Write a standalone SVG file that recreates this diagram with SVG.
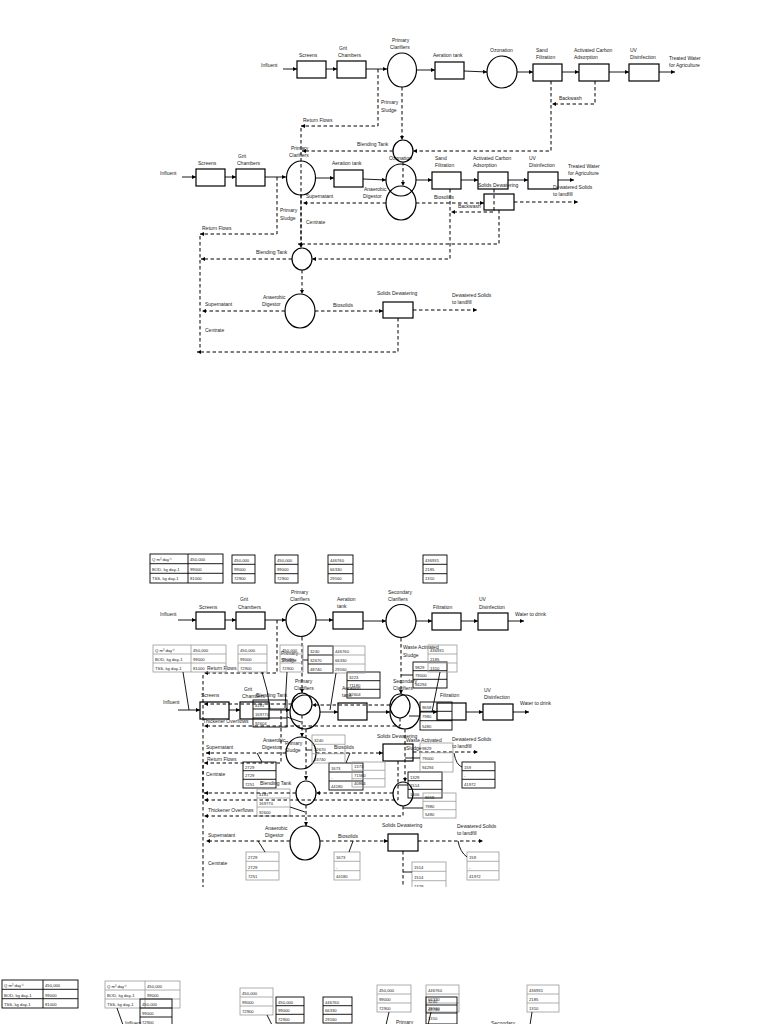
<svg xmlns="http://www.w3.org/2000/svg" width="768" height="1024" viewBox="0 0 768 1024">
<style>
.box{fill:none;stroke:#000;stroke-width:1.2}
.ln{fill:none;stroke:#000;stroke-width:0.9}
.sa{fill:none;stroke:#000;stroke-width:0.9;marker-end:url(#ah)}
.da{fill:none;stroke:#000;stroke-width:1;stroke-dasharray:3.5 2.5;marker-end:url(#ah)}
.dl{fill:none;stroke:#000;stroke-width:1;stroke-dasharray:3.5 2.5}
.tk{fill:none;stroke:#000;stroke-width:0.9}
.tl{fill:none;stroke:#9a9a9a;stroke-width:0.8}
.t{font-family:"Liberation Sans",Arial,sans-serif;font-size:5px;fill:#222}
.n{font-family:"Liberation Sans",Arial,sans-serif;font-size:4.2px;fill:#222}
</style>
<defs>
<marker id="ah" viewBox="0 0 6 6" refX="6" refY="3" markerWidth="4" markerHeight="4" markerUnits="userSpaceOnUse" orient="auto"><path d="M0,0L6,3L0,6z" fill="#000"/></marker>
<clipPath id="clipC2"><rect x="0" y="0" width="768" height="887"/></clipPath>
</defs>
<rect x="0" y="0" width="768" height="1024" fill="#fff"/>

<!-- ===== Flow B ===== -->
<g id="flowB">
<g id="b-influent"><text class="t" x="160" y="175">Influent</text></g>
<g id="b-screens"><rect class="box" x="196" y="169" width="29" height="17"/><text class="t" x="198" y="165">Screens</text></g>
<g id="b-grit"><rect class="box" x="236" y="169" width="29" height="17"/><text class="t" x="238" y="158">Grit</text><text class="t" x="237" y="165">Chambers</text></g>
<g id="b-primary"><ellipse class="box" cx="301" cy="178" rx="14.5" ry="17"/><text class="t" x="291" y="150">Primary</text><text class="t" x="289" y="157">Clarifiers</text></g>
<g id="b-aeration"><rect class="box" x="334" y="170" width="29" height="17"/><text class="t" x="332" y="165">Aeration tank</text></g>
<g id="b-ozonation"><ellipse class="box" cx="401" cy="180" rx="15" ry="16"/><text class="t" x="389" y="160">Ozonation</text></g>
<g id="b-sand"><rect class="box" x="432" y="172" width="29" height="17"/><text class="t" x="435" y="160">Sand</text><text class="t" x="435" y="167">Filtration</text></g>
<g id="b-carbon"><rect class="box" x="478" y="172" width="30" height="17"/><text class="t" x="473" y="160">Activated Carbon</text><text class="t" x="473" y="167">Adsorption</text></g>
<g id="b-uv"><rect class="box" x="528" y="172" width="30" height="17"/><text class="t" x="529" y="160">UV</text><text class="t" x="529" y="167">Disinfection</text></g>
<g id="b-treated"><text class="t" x="568" y="168">Treated Water</text><text class="t" x="568" y="175">for Agriculture</text></g>
<g id="b-blending"><ellipse class="box" cx="302" cy="259" rx="10" ry="11"/><text class="t" x="256" y="254">Blending Tank</text></g>
<g id="b-digestor"><ellipse class="box" cx="300" cy="311" rx="15" ry="17"/><text class="t" x="263" y="299">Anaerobic</text><text class="t" x="262" y="306">Digestor</text></g>
<g id="b-dewatering"><rect class="box" x="383" y="302" width="30" height="16"/><text class="t" x="377" y="295">Solids Dewatering</text></g>
<g id="b-labels">
<text class="t" x="280" y="212">Primary</text><text class="t" x="280" y="220">Sludge</text>
<text class="t" x="202" y="230">Return Flows</text>
<text class="t" x="205" y="306">Supernatant</text>
<text class="t" x="333" y="307">Biosolids</text>
<text class="t" x="452" y="297">Dewatered Solids</text><text class="t" x="452" y="304">to landfill</text>
<text class="t" x="205" y="332">Centrate</text>
<text class="t" x="458" y="208">Backwash</text>
</g>
<g id="b-connectors">
<path class="sa" d="M182,177H196"/><path class="sa" d="M225,177H236"/><path class="sa" d="M265,177H286"/>
<path class="sa" d="M315.5,178H334"/><path class="sa" d="M363,179L386,180"/><path class="sa" d="M416,180H432"/>
<path class="sa" d="M461,180H478"/><path class="sa" d="M508,180H528"/><path class="sa" d="M558,180H574"/>
<path class="da" d="M277,177V234H200"/>
<path class="da" d="M301,195V248"/>
<path class="da" d="M450,189V259H312"/>
<path class="da" d="M494,189V212H451"/>
<path class="da" d="M292,259H201"/>
<path class="da" d="M302,270V294"/>
<path class="da" d="M285,311H202"/>
<path class="da" d="M315,311H383"/>
<path class="da" d="M413,310H477"/>
<path class="da" d="M398,318V352H197"/>
<path class="dl" d="M200,236V350"/>
</g>
</g>

<!-- ===== Flow A ===== -->
<g id="flowA" transform="translate(101,-108)">
<g id="a-influent"><text class="t" x="160" y="175">Influent</text></g>
<g id="a-screens"><rect class="box" x="196" y="169" width="29" height="17"/><text class="t" x="198" y="165">Screens</text></g>
<g id="a-grit"><rect class="box" x="236" y="169" width="29" height="17"/><text class="t" x="238" y="158">Grit</text><text class="t" x="237" y="165">Chambers</text></g>
<g id="a-primary"><ellipse class="box" cx="301" cy="178" rx="14.5" ry="17"/><text class="t" x="291" y="150">Primary</text><text class="t" x="289" y="157">Clarifiers</text></g>
<g id="a-aeration"><rect class="box" x="334" y="170" width="29" height="17"/><text class="t" x="332" y="165">Aeration tank</text></g>
<g id="a-ozonation"><ellipse class="box" cx="401" cy="180" rx="15" ry="16"/><text class="t" x="389" y="160">Ozonation</text></g>
<g id="a-sand"><rect class="box" x="432" y="172" width="29" height="17"/><text class="t" x="435" y="160">Sand</text><text class="t" x="435" y="167">Filtration</text></g>
<g id="a-carbon"><rect class="box" x="478" y="172" width="30" height="17"/><text class="t" x="473" y="160">Activated Carbon</text><text class="t" x="473" y="167">Adsorption</text></g>
<g id="a-uv"><rect class="box" x="528" y="172" width="30" height="17"/><text class="t" x="529" y="160">UV</text><text class="t" x="529" y="167">Disinfection</text></g>
<g id="a-treated"><text class="t" x="568" y="168">Treated Water</text><text class="t" x="568" y="175">for Agriculture</text></g>
<g id="a-blending"><ellipse class="box" cx="302" cy="259" rx="10" ry="11"/><text class="t" x="256" y="254">Blending Tank</text></g>
<g id="a-digestor"><ellipse class="box" cx="300" cy="311" rx="15" ry="17"/><text class="t" x="263" y="299">Anaerobic</text><text class="t" x="262" y="306">Digestor</text></g>
<g id="a-dewatering"><rect class="box" x="383" y="302" width="30" height="16"/><text class="t" x="377" y="295">Solids Dewatering</text></g>
<g id="a-labels">
<text class="t" x="280" y="212">Primary</text><text class="t" x="280" y="220">Sludge</text>
<text class="t" x="202" y="230">Return Flows</text>
<text class="t" x="205" y="306">Supernatant</text>
<text class="t" x="333" y="307">Biosolids</text>
<text class="t" x="452" y="297">Dewatered Solids</text><text class="t" x="452" y="304">to landfill</text>
<text class="t" x="205" y="332">Centrate</text>
<text class="t" x="458" y="208">Backwash</text>
</g>
<g id="a-connectors">
<path class="sa" d="M182,177H196"/><path class="sa" d="M225,177H236"/><path class="sa" d="M265,177H286"/>
<path class="sa" d="M315.5,178H334"/><path class="sa" d="M363,179L386,180"/><path class="sa" d="M416,180H432"/>
<path class="sa" d="M461,180H478"/><path class="sa" d="M508,180H528"/><path class="sa" d="M558,180H574"/>
<path class="da" d="M277,177V234H200"/>
<path class="da" d="M301,195V248"/>
<path class="da" d="M450,189V259H312"/>
<path class="da" d="M494,189V212H451"/>
<path class="da" d="M292,259H201"/>
<path class="da" d="M302,270V294"/>
<path class="da" d="M285,311H202"/>
<path class="da" d="M315,311H383"/>
<path class="da" d="M413,310H477"/>
<path class="da" d="M398,318V352H197"/>
<path class="dl" d="M200,236V350"/>
</g>
</g>

<!-- ===== Flow C1 ===== -->
<g id="flowC1">
<g id="c1-tables">
<g id="c1-t1"><rect class="tk" x="150" y="554" width="73" height="29"/><path class="tk" d="M188,554V583M150,563.7H223M150,573.3H223"/>
<text class="n" x="152" y="561">Q m³ day⁻¹</text><text class="n" x="190" y="561">450,000</text>
<text class="n" x="152" y="570.5">BOD, kg day-1</text><text class="n" x="190" y="570.5">99000</text>
<text class="n" x="152" y="580">TSS, kg day-1</text><text class="n" x="190" y="580">81000</text></g>
<g id="c1-t2"><rect class="tk" x="232" y="555" width="23" height="28"/><path class="tk" d="M232,564.3H255M232,573.7H255"/><text class="n" x="234" y="562">450,000</text><text class="n" x="234" y="571">99000</text><text class="n" x="234" y="580">72900</text></g>
<g id="c1-t3"><rect class="tk" x="275" y="555" width="23" height="28"/><path class="tk" d="M275,564.3H298M275,573.7H298"/><text class="n" x="277" y="562">450,000</text><text class="n" x="277" y="571">99000</text><text class="n" x="277" y="580">72900</text></g>
<g id="c1-t4"><rect class="tk" x="328" y="555" width="25" height="28"/><path class="tk" d="M328,564.3H353M328,573.7H353"/><text class="n" x="330" y="562">446760</text><text class="n" x="330" y="571">66330</text><text class="n" x="330" y="580">29160</text></g>
<g id="c1-t5"><rect class="tk" x="423" y="555" width="24" height="28"/><path class="tk" d="M423,564.3H447M423,573.7H447"/><text class="n" x="425" y="562">436931</text><text class="n" x="425" y="571">2185</text><text class="n" x="425" y="580">1310</text></g>
<g id="c1-tps"><rect class="tk" x="308" y="646" width="25" height="27"/><path class="tk" d="M308,655H333M308,664H333"/><text class="n" x="310" y="652.5">3240</text><text class="n" x="310" y="661.5">32670</text><text class="n" x="310" y="670.5">48740</text></g>
<g id="c1-tx"><rect class="tk" x="347" y="672" width="33" height="26"/><path class="tk" d="M347,680.7H380M347,689.3H380"/><text class="n" x="349" y="678.5">3223</text><text class="n" x="349" y="687">71180</text><text class="n" x="349" y="695.5">32604</text></g>
<g id="c1-twas"><rect class="tk" x="413" y="662" width="34" height="26"/><path class="tk" d="M413,670.7H447M413,679.3H447"/><text class="n" x="415" y="668.5">9829</text><text class="n" x="415" y="677">79000</text><text class="n" x="415" y="685.5">94294</text></g>
<g id="c1-tth"><rect class="tk" x="420" y="702" width="32" height="28"/><path class="tk" d="M420,711.3H452M420,720.7H452"/><text class="n" x="422" y="709">9658</text><text class="n" x="422" y="718">7980</text><text class="n" x="422" y="727.5">5480</text></g>
<g id="c1-tto"><rect class="tk" x="253" y="700" width="34" height="27"/><path class="tk" d="M253,709H287M253,718H287"/><text class="n" x="255" y="706.5">4181</text><text class="n" x="255" y="715.5">169770</text><text class="n" x="255" y="724.5">92604</text></g>
<g id="c1-tsup"><rect class="tk" x="243" y="762" width="33" height="26"/><path class="tk" d="M243,770.7H276M243,779.3H276"/><text class="n" x="245" y="768.5">2729</text><text class="n" x="245" y="777">2729</text><text class="n" x="245" y="785.5">7251</text></g>
<g id="c1-tbio"><rect class="tk" x="329" y="763" width="34" height="27"/><path class="tk" d="M329,772H363M329,781H363"/><text class="n" x="331" y="769.5">1673</text><text class="n" x="331" y="778.5">-</text><text class="n" x="331" y="787.5">44180</text></g>
<g id="c1-tdew"><rect class="tk" x="462" y="762" width="33" height="26"/><path class="tk" d="M462,770.7H495M462,779.3H495"/><text class="n" x="464" y="768.5">159</text><text class="n" x="464" y="777">-</text><text class="n" x="464" y="785.5">41972</text></g>
<g id="c1-tcen"><rect class="tk" x="408" y="772" width="34" height="26"/><path class="tk" d="M408,780.7H442M408,789.3H442"/><text class="n" x="410" y="778.5">1329</text><text class="n" x="410" y="787">1514</text><text class="n" x="410" y="795.5">1406</text></g>
</g>
<g id="c1-influent"><text class="t" x="160" y="616">Influent</text></g>
<g id="c1-screens"><rect class="box" x="196" y="612" width="29" height="17"/><text class="t" x="199" y="609">Screens</text></g>
<g id="c1-grit"><rect class="box" x="236" y="612" width="29" height="17"/><text class="t" x="240" y="601">Grit</text><text class="t" x="238" y="609">Chambers</text></g>
<g id="c1-primary"><ellipse class="box" cx="301" cy="620" rx="15" ry="16.5"/><text class="t" x="291" y="594">Primary</text><text class="t" x="290" y="601">Clarifiers</text></g>
<g id="c1-aeration"><rect class="box" x="333" y="612" width="30" height="17"/><text class="t" x="337" y="601">Aeration</text><text class="t" x="337" y="608">tank</text></g>
<g id="c1-secondary"><ellipse class="box" cx="401" cy="621" rx="15" ry="16.5"/><text class="t" x="388" y="594">Secondary</text><text class="t" x="388" y="601">Clarifiers</text></g>
<g id="c1-filtration"><rect class="box" x="432" y="613" width="29" height="17"/><text class="t" x="433" y="609">Filtration</text></g>
<g id="c1-uv"><rect class="box" x="478" y="613" width="30" height="17"/><text class="t" x="479" y="601">UV</text><text class="t" x="479" y="609">Disinfection</text></g>
<g id="c1-water"><text class="t" x="515" y="616">Water to drink</text></g>
<g id="c1-blending"><ellipse class="box" cx="302" cy="704" rx="10" ry="11"/><text class="t" x="256" y="697">Blending Tank</text></g>
<g id="c1-thickener"><ellipse class="box" cx="400" cy="706" rx="10" ry="12"/></g>
<g id="c1-digestor"><ellipse class="box" cx="301" cy="753" rx="15" ry="16"/><text class="t" x="263" y="742">Anaerobic</text><text class="t" x="262" y="749">Digestor</text></g>
<g id="c1-dewatering"><rect class="box" x="383" y="744" width="30" height="17"/><text class="t" x="377" y="738">Solids Dewatering</text></g>
<g id="c1-labels">
<text class="t" x="207" y="670">Return Flows</text>
<text class="t" x="281" y="655">Primary</text><text class="t" x="281" y="662">Sludge</text>
<text class="t" x="403" y="649">Waste Activated</text><text class="t" x="403" y="657">Sludge</text>
<text class="t" x="203" y="723">Thickener Overflows</text>
<text class="t" x="206" y="749">Supernatant</text>
<text class="t" x="334" y="749">Biosolids</text>
<text class="t" x="452" y="741">Dewatered Solids</text><text class="t" x="452" y="748">to landfill</text>
<text class="t" x="206" y="776">Centrate</text>
</g>
<g id="c1-connectors">
<path class="sa" d="M178,620H196"/><path class="sa" d="M225,620H236"/><path class="sa" d="M265,620H286"/>
<path class="sa" d="M316,620H333"/><path class="sa" d="M363,621H386"/><path class="sa" d="M416,621H432"/>
<path class="sa" d="M461,621H478"/><path class="sa" d="M508,621H524"/>
<path class="da" d="M277,620V673H204"/>
<path class="dl" d="M203,675V800"/>
<path class="da" d="M302,637V693"/>
<path class="da" d="M401,638V694"/>
<path class="da" d="M390,705H312"/>
<path class="da" d="M292,704H204"/>
<path class="da" d="M400,718V726H204"/>
<path class="da" d="M302,715V737"/>
<path class="da" d="M286,753H206"/>
<path class="da" d="M316,753H383"/>
<path class="da" d="M413,752H478"/>
<path class="da" d="M398,761V800H204"/>
<path class="ln" d="M287,717L301,722M409,716H420M262,762L257,753M346,763L350,753M454,753Q456,765 462,767M398,785H408M413,675H401M308,660H302"/>
</g>
</g>

<!-- ===== Flow C2 ===== -->
<g id="flowC2" clip-path="url(#clipC2)">
<g transform="translate(4,90)">
<g id="c2-tables">
<g id="c2-t1"><rect class="tl" x="149" y="555" width="73" height="27"/><path class="tl" d="M187,555V582M149,564H222M149,573H222"/>
<text class="n" x="151" y="561.5">Q m³ day⁻¹</text><text class="n" x="189" y="561.5">450,000</text>
<text class="n" x="151" y="570.5">BOD, kg day-1</text><text class="n" x="189" y="570.5">99000</text>
<text class="n" x="151" y="579.5">TSS, kg day-1</text><text class="n" x="189" y="579.5">81000</text></g>
<g id="c2-t2"><rect class="tl" x="234" y="555" width="29" height="27"/><path class="tl" d="M234,564H263M234,573H263"/><text class="n" x="236" y="561.5">450,000</text><text class="n" x="236" y="570.5">99000</text><text class="n" x="236" y="579.5">72900</text></g>
<g id="c2-t3"><rect class="tl" x="276" y="555" width="23" height="27"/><path class="tl" d="M276,564H299M276,573H299"/><text class="n" x="278" y="561.5">450,000</text><text class="n" x="278" y="570.5">99000</text><text class="n" x="278" y="579.5">72900</text></g>
<g id="c2-t4"><rect class="tl" x="329" y="556" width="32" height="27"/><path class="tl" d="M329,565H361M329,574H361"/><text class="n" x="331" y="562.5">446760</text><text class="n" x="331" y="571.5">66330</text><text class="n" x="331" y="580.5">29160</text></g>
<g id="c2-t5"><rect class="tl" x="424" y="555" width="29" height="27"/><path class="tl" d="M424,564H453M424,573H453"/><text class="n" x="426" y="561.5">436931</text><text class="n" x="426" y="570.5">2185</text><text class="n" x="426" y="579.5">1310</text></g>
<g id="c2-tps"><rect class="tl" x="308" y="645" width="33" height="28"/><path class="tl" d="M308,654.3H341M308,663.7H341"/><text class="n" x="310" y="652">3240</text><text class="n" x="310" y="661">32670</text><text class="n" x="310" y="670.5">43740</text></g>
<g id="c2-tx"><rect class="tl" x="348" y="672" width="33" height="25"/><path class="tl" d="M348,680.3H381M348,688.7H381"/><text class="n" x="350" y="678">1373</text><text class="n" x="350" y="686.5">71580</text><text class="n" x="350" y="695">40864</text></g>
<g id="c2-twas"><rect class="tl" x="416" y="653" width="33" height="29"/><path class="tl" d="M416,662.7H449M416,672.3H449"/><text class="n" x="418" y="660">9829</text><text class="n" x="418" y="669.5">79000</text><text class="n" x="418" y="679">94294</text></g>
<g id="c2-tth"><rect class="tl" x="419" y="703" width="33" height="25"/><path class="tl" d="M419,711.3H452M419,719.7H452"/><text class="n" x="421" y="709">8658</text><text class="n" x="421" y="717.5">7980</text><text class="n" x="421" y="726">5480</text></g>
<g id="c2-tto"><rect class="tl" x="253" y="699" width="33" height="27"/><path class="tl" d="M253,708H286M253,717H286"/><text class="n" x="255" y="705.5">4181</text><text class="n" x="255" y="714.5">169770</text><text class="n" x="255" y="723.5">92600</text></g>
<g id="c2-tsup"><rect class="tl" x="242" y="762" width="33" height="28"/><path class="tl" d="M242,771.3H275M242,780.7H275"/><text class="n" x="244" y="769">2729</text><text class="n" x="244" y="778.5">2729</text><text class="n" x="244" y="788">7251</text></g>
<g id="c2-tbio"><rect class="tl" x="330" y="762" width="26" height="28"/><path class="tl" d="M330,771.3H356M330,780.7H356"/><text class="n" x="332" y="769">1673</text><text class="n" x="332" y="778.5">-</text><text class="n" x="332" y="788">44180</text></g>
<g id="c2-tdew"><rect class="tl" x="463" y="762" width="32" height="28"/><path class="tl" d="M463,771.3H495M463,780.7H495"/><text class="n" x="465" y="769">159</text><text class="n" x="465" y="778.5">-</text><text class="n" x="465" y="788">41972</text></g>
<g id="c2-tcen"><rect class="tl" x="408" y="772" width="34" height="28"/><path class="tl" d="M408,781.3H442M408,790.7H442"/><text class="n" x="410" y="779">1514</text><text class="n" x="410" y="788.5">1514</text><text class="n" x="410" y="798">1329</text></g>
</g>
<g id="c2-influent"><text class="t" x="159" y="614">Influent</text></g>
<g id="c2-screens"><rect class="box" x="196" y="612" width="29" height="17"/><text class="t" x="197" y="607">Screens</text></g>
<g id="c2-grit"><rect class="box" x="236" y="612" width="29" height="17"/><text class="t" x="240" y="601">Grit</text><text class="t" x="238" y="608">Chambers</text></g>
<g id="c2-primary"><ellipse class="box" cx="301" cy="622" rx="15" ry="17"/><text class="t" x="291" y="593">Primary</text><text class="t" x="290" y="600">Clarifiers</text></g>
<g id="c2-aeration"><rect class="box" x="334" y="613" width="29" height="17"/><text class="t" x="338" y="600">Aeration</text><text class="t" x="338" y="607">tank</text></g>
<g id="c2-secondary"><ellipse class="box" cx="401" cy="622" rx="15" ry="17"/><text class="t" x="389" y="593">Secondary</text><text class="t" x="389" y="600">Clarifiers</text></g>
<g id="c2-filtration"><rect class="box" x="433" y="613" width="29" height="17"/><text class="t" x="436" y="607">Filtration</text></g>
<g id="c2-uv"><rect class="box" x="479" y="614" width="30" height="16"/><text class="t" x="480" y="602">UV</text><text class="t" x="480" y="609">Disinfection</text></g>
<g id="c2-water"><text class="t" x="516" y="615">Water to drink</text></g>
<g id="c2-blending"><ellipse class="box" cx="302" cy="703" rx="10" ry="12"/><text class="t" x="256" y="695">Blending Tank</text></g>
<g id="c2-thickener"><ellipse class="box" cx="399" cy="704" rx="10" ry="12"/></g>
<g id="c2-digestor"><ellipse class="box" cx="301" cy="753" rx="15" ry="17"/><text class="t" x="261" y="740">Anaerobic</text><text class="t" x="261" y="747">Digestor</text></g>
<g id="c2-dewatering"><rect class="box" x="384" y="744" width="30" height="17"/><text class="t" x="378" y="737">Solids Dewatering</text></g>
<g id="c2-labels">
<text class="t" x="203" y="671">Return Flows</text>
<text class="t" x="281" y="655">Primary</text><text class="t" x="281" y="662">Sludge</text>
<text class="t" x="402" y="652">Waste Activated</text><text class="t" x="402" y="660">Sludge</text>
<text class="t" x="204" y="722">Thickener Overflows</text>
<text class="t" x="204" y="747">Supernatant</text>
<text class="t" x="334" y="748">Biosolids</text>
<text class="t" x="453" y="738">Dewatered Solids</text><text class="t" x="453" y="745">to landfill</text>
<text class="t" x="204" y="775">Centrate</text>
</g>
<g id="c2-connectors">
<path class="sa" d="M174,620H196"/><path class="sa" d="M225,620H236"/><path class="sa" d="M265,620H286"/>
<path class="sa" d="M316,622H334"/><path class="sa" d="M363,622H386"/><path class="sa" d="M416,622H433"/>
<path class="sa" d="M462,622H479"/><path class="sa" d="M509,622H525"/>
<path class="ln" d="M179,582L185,620M258,582Q264,600 266,619M283,582L281,618M332,583L326,620M436,582L428,622"/>
<path class="da" d="M277,620V673H200"/>
<path class="dl" d="M199,675V800"/>
<path class="da" d="M302,639V690"/>
<path class="da" d="M401,639V692"/>
<path class="da" d="M389,703H312"/>
<path class="da" d="M292,703H200"/>
<path class="da" d="M399,716V726H200"/>
<path class="da" d="M302,715V736"/>
<path class="da" d="M286,751H202"/>
<path class="da" d="M316,751H384"/>
<path class="da" d="M414,751H479"/>
<path class="da" d="M399,761V800H200"/>
<path class="ln" d="M286,717L301,722M399,718H419M261,762L254,751M345,762L349,751M454,751Q456,762 463,767M399,782H408M416,668H401M308,660H302"/>
</g>
</g>
</g>

<!-- ===== Flow D (bottom, clipped by page) ===== -->
<g id="flowD">
<g id="d-t1"><rect class="tk" x="2" y="980" width="76" height="28"/><path class="tk" d="M43,980V1008M2,989.3H78M2,998.7H78"/>
<text class="n" x="4" y="987">Q m³ day⁻¹</text><text class="n" x="45" y="987">450,000</text>
<text class="n" x="4" y="996.5">BOD, kg day-1</text><text class="n" x="45" y="996.5">99000</text>
<text class="n" x="4" y="1006">TSS, kg day-1</text><text class="n" x="45" y="1006">81000</text></g>
<g id="d-t2"><rect class="tl" x="105" y="981" width="75" height="27"/><path class="tl" d="M145,981V1008M105,990H180M105,999H180"/>
<text class="n" x="107" y="987.5">Q m³ day⁻¹</text><text class="n" x="147" y="987.5">450,000</text>
<text class="n" x="107" y="996.5">BOD, kg day-1</text><text class="n" x="147" y="996.5">99000</text>
<text class="n" x="107" y="1005.5">TSS, kg day-1</text></g>
<g id="d-t3"><rect class="tk" x="140" y="999" width="32" height="27"/><path class="tk" d="M140,1008H172M140,1017H172"/><text class="n" x="142" y="1005.5">450,000</text><text class="n" x="142" y="1014.5">99000</text><text class="n" x="142" y="1023.5">72900</text></g>
<g id="d-t4"><rect class="tl" x="240" y="988" width="33" height="27"/><path class="tl" d="M240,997H273M240,1006H273"/><text class="n" x="242" y="994.5">450,000</text><text class="n" x="242" y="1003.5">99000</text><text class="n" x="242" y="1012.5">72900</text></g>
<g id="d-t5"><rect class="tk" x="276" y="997" width="28" height="26"/><path class="tk" d="M276,1005.7H304M276,1014.3H304"/><text class="n" x="278" y="1003.5">450,000</text><text class="n" x="278" y="1012">99000</text><text class="n" x="278" y="1020.5">72900</text></g>
<g id="d-t6"><rect class="tk" x="323" y="997" width="29" height="26"/><path class="tk" d="M323,1005.7H352M323,1014.3H352"/><text class="n" x="325" y="1003.5">446760</text><text class="n" x="325" y="1012">66330</text><text class="n" x="325" y="1020.5">29160</text></g>
<g id="d-t7"><rect class="tl" x="377" y="985" width="34" height="27"/><path class="tl" d="M377,994H411M377,1003H411"/><text class="n" x="379" y="991.5">450,000</text><text class="n" x="379" y="1000.5">99000</text><text class="n" x="379" y="1009.5">72900</text></g>
<g id="d-t8"><rect class="tl" x="426" y="985" width="33" height="27"/><path class="tl" d="M426,994H459M426,1003H459"/><text class="n" x="428" y="991.5">446760</text><text class="n" x="428" y="1000.5">66330</text><text class="n" x="428" y="1009.5">29160</text></g>
<g id="d-t9"><rect class="tk" x="426" y="997" width="31" height="27"/><path class="tk" d="M426,1005H457M426,1013H457"/><text class="n" x="428" y="1003">3240</text><text class="n" x="428" y="1011">48740</text><text class="n" x="428" y="1020">1310</text></g>
<g id="d-t10"><rect class="tl" x="527" y="985" width="32" height="27"/><path class="tl" d="M527,994H559M527,1003H559"/><text class="n" x="529" y="991.5">436931</text><text class="n" x="529" y="1000.5">2185</text><text class="n" x="529" y="1009.5">1310</text></g>
<g id="d-labels">
<text class="t" x="125" y="1025">Influent</text>
<text class="t" x="396" y="1024">Primary</text>
<text class="t" x="491" y="1025">Secondary</text>
</g>
<g id="d-connectors">
<path class="tk" d="M117,1008L123,1025M267,1015L272,1025M389,1012L386,1025M431,1012L428,1025M532,1012L530,1025"/>
</g>
</g>
</svg>
